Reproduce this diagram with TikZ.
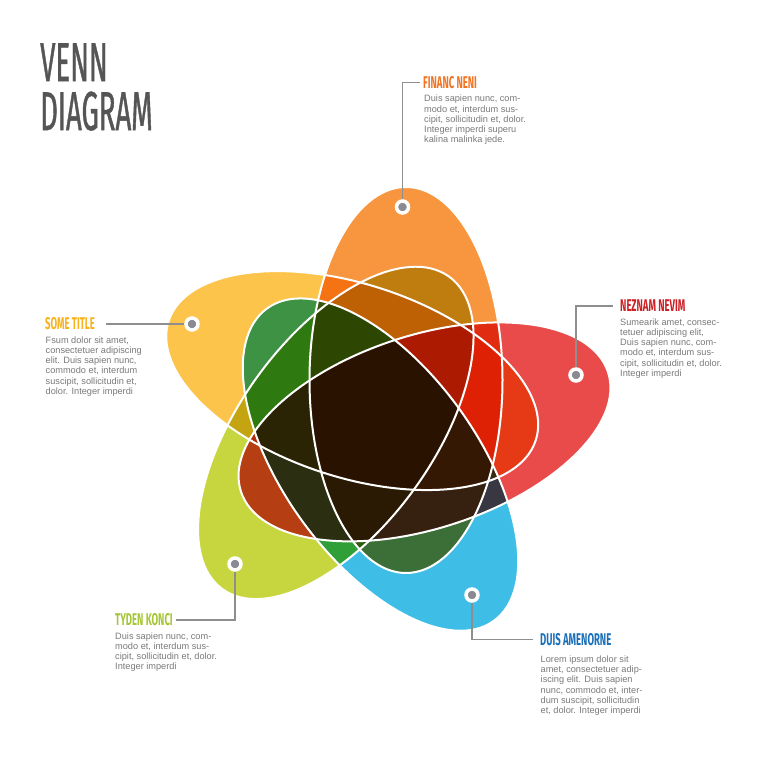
\documentclass[tikz,border=0pt]{standalone}
\usepackage{fontspec}
\setmainfont{Liberation Sans}
\newfontfamily\headfont[FakeStretch=0.5, FakeBold=0.7]{Fira Sans}
\newfontfamily\capfont[FakeStretch=0.56]{Fira Sans}
\usetikzlibrary{positioning}

\definecolor{petalY}{HTML}{FDC44C}
\definecolor{petalO}{HTML}{F7963E}
\definecolor{petalR}{HTML}{E84B4A}
\definecolor{petalB}{HTML}{3EBEE6}
\definecolor{petalL}{HTML}{C7D63F}
\definecolor{capY}{HTML}{F8B21C}
\definecolor{capO}{HTML}{F37321}
\definecolor{capR}{HTML}{CC1F24}
\definecolor{capL}{HTML}{A6C536}
\definecolor{capB}{HTML}{1C70B8}
\definecolor{dotgray}{HTML}{8A8A92}
\definecolor{leadgray}{HTML}{8E8E8E}
\definecolor{bodygray}{HTML}{7A7A7A}
\definecolor{headgray}{HTML}{555555}

\begin{document}
\begin{tikzpicture}[x=1pt, y=1pt,
	petal/.style={x radius=193, y radius=96.5},
	rim/.style={draw=white, line width=2pt},
	marker/.style={circle, fill=dotgray, draw=white, line width=3.5pt, minimum size=12pt, inner sep=0pt},
	leader/.style={draw=leadgray, line width=1.1pt},
	captitle/.style={font=\capfont\bfseries\fontsize{17}{17}\selectfont, inner xsep=3pt, inner ysep=0pt, anchor=base west},
	bodytext/.style={font=\fontsize{9.2}{10.2}\selectfont, text=bodygray, align=left, inner sep=0pt, anchor=north west}]
		\path[use as bounding box, fill=white] (0,0) rectangle (768,768);
		
		% petals
		\begin{scope}[blend mode=multiply]
		\fill[petalO, shift={(406,388)}, rotate=90] (0,0) ellipse [petal];
		\fill[petalR, shift={(424.5,336.1)}, rotate=18] (0,0) ellipse [petal];
		\fill[petalB, shift={(380.5,303.4)}, rotate=-54] (0,0) ellipse [petal];
		\fill[petalL, shift={(335.8,335.1)}, rotate=54] (0,0) ellipse [petal];
		\fill[petalY, shift={(352.2,387.4)}, rotate=-18] (0,0) ellipse [petal];
		\end{scope}
		\draw[rim, shift={(406,388)}, rotate=90] (0,0) ellipse [petal];
		\draw[rim, shift={(424.5,336.1)}, rotate=18] (0,0) ellipse [petal];
		\draw[rim, shift={(380.5,303.4)}, rotate=-54] (0,0) ellipse [petal];
		\draw[rim, shift={(335.8,335.1)}, rotate=54] (0,0) ellipse [petal];
		\draw[rim, shift={(352.2,387.4)}, rotate=-18] (0,0) ellipse [petal];
		
		\node[text=headgray, font=\headfont\fontsize{55}{49}\selectfont, align=left, inner sep=0pt, anchor=north west] (hd) at (40,725) {VENN\\DIAGRAM};
		
		\node[marker] (d1) at (402.5,561) {};
		\node[marker] (d2) at (192,444) {};
		\node[marker] (d3) at (576,393) {};
		\node[marker] (d4) at (235,204) {};
		\node[marker] (d5) at (472,173) {};
		\coordinate (e1) at (420,685.3);
		\coordinate (e2) at (106,444);
		\coordinate (e3) at (613,462);
		\coordinate (e4) at (176,148);
		\coordinate (e5) at (532.7,128.7);
		\draw[leader] (d1) |- (e1);
		\draw[leader] (d2) -- (e2);
		\draw[leader] (d3) |- (e3);
		\draw[leader] (d4) |- (e4);
		\draw[leader] (d5) |- (e5);
		
		\node[captitle, text=capO] (t1) at (420,679.5) {FINANC NENI};
		\node[captitle, text=capY] (t2) at (42,438.2) {SOME TITLE};
		\node[captitle, text=capR] (t3) at (617,456.2) {NEZNAM NEVIM};
		\node[captitle, text=capL] (t4) at (112,142.2) {TYDEN KONCI};
		\node[captitle, text=capB] (t5) at (537,122.5) {DUIS AMENORNE};
		
		\node[bodytext] (b1) at (424,673) {Duis sapien nunc, com-\\modo et, interdum sus-\\cipit, sollicitudin et, dolor.\\Integer imperdi superu\\kalina malinka jede.};
		\node[bodytext] (b2) at (45.5,431.6) {Fsum dolor sit amet,\\consectetuer adipiscing\\elit. Duis sapien nunc,\\commodo et, interdum\\suscipit, sollicitudin et,\\dolor. Integer imperdi};
		\node[bodytext] (b3) at (620,449.6) {Sumearik amet, consec-\\tetuer adipiscing elit,\\Duis sapien nunc, com-\\modo et, interdum sus-\\cipit, sollicitudin et, dolor.\\Integer imperdi};
		\node[bodytext] (b4) at (115,135.6) {Duis sapien nunc, com-\\modo et, interdum sus-\\cipit, sollicitudin et, dolor.\\Integer imperdi};
		\node[bodytext] (b5) at (540.5,112.3) {Lorem ipsum dolor sit\\amet, consectetuer adip-\\iscing elit. Duis sapien\\nunc, commodo et, inter-\\dum suscipit, sollicitudin\\et, dolor. Integer imperdi};
		
		\end{tikzpicture}
\end{document}
